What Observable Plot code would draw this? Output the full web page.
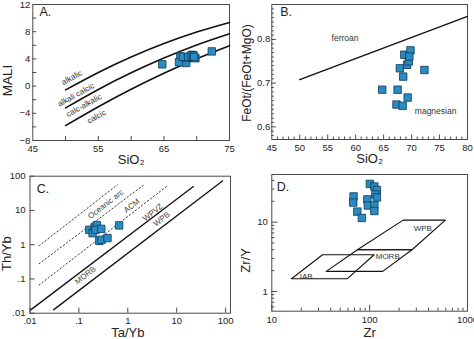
<!DOCTYPE html>
<html><head><meta charset="utf-8">
<script src="https://cdn.jsdelivr.net/npm/d3@7"></script>
<script src="https://cdn.jsdelivr.net/npm/@observablehq/plot@0.6"></script>
<style>
body{margin:0;background:#fff;}
#wrap{position:relative;width:474px;height:339px;overflow:hidden;background:#fff;}
#wrap>div{position:absolute;}
</style></head><body>
<div id="wrap"><div id="pa" style="left:0;top:0"></div><div id="pb" style="left:237px;top:0"></div><div id="pc" style="left:0;top:168px"></div><div id="pd" style="left:237px;top:168px"></div></div>
<script>
// ---------- data ----------
// Panel A: MALI vs SiO2 (boundary curves)
const boundarySiO2 = [50, 55, 60, 65, 70, 75];
const alkalicBoundary = [-0.56, 2.0, 4.27, 6.25, 7.95, 9.37];
const alkaliCalcicBoundary = [-3.2, -0.49, 1.95, 4.12, 6.04, 7.69];
const calcAlkalicBoundary = [-5.82, -3.04, -0.47, 1.88, 4.02, 5.94];
const seriesNames = ["alkalic", "alkali calcic", "calc-alkalic", "calcic"];
const seriesLabelSiO2 = [50.95, 51.6, 52.8, 54.7];
const seriesLabelMALI = [1.25, -1.28, -2.85, -4.5];
// samples
const sampleSiO2 = [64.75, 67.5, 67.3, 68.4, 69.3, 68.5, 67.9, 68.7, 69.2, 69.5, 69.8, 69.6, 72.3];
const sampleMALI = [3.2, 4.35, 3.5, 3.4, 4.6, 4.2, 4.3, 4.3, 4.5, 4.5, 4.1, 4.3, 5.1];
const sampleFeNumber = [0.685, 0.685, 0.651, 0.648, 0.667, 0.715, 0.734, 0.765, 0.742, 0.75, 0.775, 0.761, 0.73];
// Panel B: ferroan / magnesian boundary
const feBoundarySiO2 = [50, 80];
const feBoundaryValue = [0.708, 0.853];
const feFieldNames = ["ferroan", "magnesian"];
const feFieldSiO2 = [58.1, 74.3];
const feFieldValue = [0.802, 0.636];
// Panel C: Th/Yb vs Ta/Yb
const sampleTaYb = [0.163, 0.191, 0.211, 0.233, 0.218, 0.286, 0.261, 0.29, 0.384, 0.665];
const sampleThYb = [2.71, 2.17, 3.25, 3.74, 2.71, 2.9, 1.29, 1.39, 1.56, 3.66];
const cLineKind = ["solid", "solid", "dashed", "dashed", "dashed"];
const cLineTa1 = [0.0102, 0.0298, 0.0151, 0.0151, 0.0151];
const cLineTh1 = [0.0123, 0.0123, 0.914, 0.273, 0.0655];
const cLineTa2 = [22.3, 89, 0.623, 2.09, 6.47];
const cLineTh2 = [51.2, 75, 57, 54.7, 52.5];
const cFieldNames = ["Oceanic arc", "ACM", "WPVZ", "WPB", "MORB"];
const cFieldTa = [0.354, 1.205, 3.24, 4.94, 0.136];
const cFieldTh = [15.3, 13.7, 8.77, 5.59, 0.128];
const cTicks = [0.01, 0.1, 1, 10, 100];
// Panel D: Zr/Y vs Zr
const sampleZr = [100.5, 111.7, 118.5, 114.4, 118.5, 68.5, 68.0, 94.7, 95.9, 111.7, 111.7, 74.8, 83.2];
const sampleZrY = [35.6, 32.7, 29.1, 25.1, 22.7, 23.5, 19.2, 21.3, 17.4, 17.4, 14.5, 14.2, 11.5];
const dFieldNames = ["WPB", "MORB", "IAB"];
const dFieldZr = [[220, 594, 271, 75], [75, 271, 136, 36], [33, 111, 59.3, 15.9]];
const dFieldZrY = [[10.7, 10.7, 4.0, 4.0], [4.0, 4.0, 1.95, 1.95], [3.39, 3.39, 1.53, 1.53]];
const dFieldLabelZr = [349, 153, 22.5];
const dFieldLabelZrY = [8.2, 3.23, 1.65];
const dXTicks = [10, 100, 1000];
const dYTicks = [1, 10];

// ---------- helpers ----------
const font = "'Liberation Sans', Arial, Helvetica, sans-serif";
const ink = "#222";
const frameInk = "#4a4a4a";
const sqFill = "#2a8bc2";
const sqStroke = "#0d3b57";
const style = {fontFamily: font, fontSize: "9.5px", color: ink, background: "transparent", overflow: "visible"};
const idx = (n) => d3.range(n);
const logMinor = (lo, hi) => { const out = []; for (let e = lo; e < hi; e++) for (let m = 2; m <= 9; m++) out.push(m * Math.pow(10, e)); return out; };
const dotFmt = (d) => d < 1 ? String(d).replace(/^0\./, ".") : String(d);
const title = (txt, o) => Plot.text([txt], {textAnchor: "middle", lineAnchor: "middle", fill: ink, ...o});

const samples = idx(sampleSiO2.length).map(i => ({sio2: sampleSiO2[i], mali: sampleMALI[i], fe: sampleFeNumber[i]}));
const boundaryRows = [];
[[seriesNames[0], alkalicBoundary], [seriesNames[1], alkaliCalcicBoundary], [seriesNames[2], calcAlkalicBoundary]].forEach(([name, vals]) => {
  boundarySiO2.forEach((s, i) => boundaryRows.push({name, sio2: s, mali: vals[i]}));
});

// ---------- Panel A ----------
const plotA = Plot.plot({
  width: 237, height: 168, marginLeft: 32.3, marginRight: 8, marginTop: 4, marginBottom: 28,
  style,
  x: {type: "linear", domain: [45, 75]},
  y: {type: "linear", domain: [-8, 12]},
  marks: [
    Plot.axisX({ticks: [50, 55, 60, 65, 70], tickSize: -4, fill: "none", stroke: frameInk, label: null}),
    Plot.axisX({ticks: [45, 55, 65, 75], tickSize: 0, tickPadding: 5, label: null}),
    Plot.axisY({ticks: d3.range(-6, 12, 2), tickSize: -4, fill: "none", stroke: frameInk, label: null}),
    Plot.axisY({ticks: [-8, -4, 0, 4, 8, 12], tickSize: 0, tickPadding: 2.5, label: null}),
    Plot.frame({stroke: frameInk}),
    Plot.line(boundaryRows, {x: "sio2", y: "mali", z: "name", curve: "natural", stroke: "#111", strokeWidth: 1.6}),
    Plot.text(seriesNames, {x: (d, i) => seriesLabelSiO2[i], y: (d, i) => seriesLabelMALI[i], rotate: -29, fontSize: 8, fill: "#333"}),
    Plot.dot(samples, {x: "sio2", y: "mali", symbol: "square", r: 4.2, fill: sqFill, stroke: sqStroke, strokeWidth: 0.8}),
    Plot.text(["A."], {frameAnchor: "top-left", dx: 6.7, dy: 7.5, textAnchor: "start", lineAnchor: "middle", fontSize: 12.5}),
    title("SiO₂", {frameAnchor: "bottom", dy: 19, fontSize: 13}),
    title("MALI", {frameAnchor: "left", dx: -25, dy: 8, rotate: -90, fontSize: 13.5})
  ]
});
document.getElementById("pa").append(plotA);

// ---------- Panel B ----------
const plotB = Plot.plot({
  width: 237, height: 168, marginLeft: 34.3, marginRight: 7, marginTop: 4, marginBottom: 29,
  style,
  x: {type: "linear", domain: [45, 80]},
  y: {type: "linear", domain: [0.571, 0.88]},
  marks: [
    Plot.axisX({ticks: d3.range(46, 80).filter(v => v % 5 !== 0), tickSize: -2.5, fill: "none", stroke: frameInk, label: null}),
    Plot.axisX({ticks: [50, 55, 60, 65, 70, 75], tickSize: -4.5, fill: "none", stroke: frameInk, label: null}),
    Plot.axisX({ticks: [45, 50, 55, 60, 65, 70, 75, 80], tickSize: 0, tickPadding: 5, label: null}),
    Plot.axisY({ticks: d3.range(58, 88).filter(v => v % 10 !== 0).map(v => v / 100), tickSize: -2.5, fill: "none", stroke: frameInk, label: null}),
    Plot.axisY({ticks: [0.6, 0.7, 0.8], tickSize: -4.5, fill: "none", stroke: frameInk, label: null}),
    Plot.axisY({ticks: [0.6, 0.7, 0.8], tickSize: 0, tickPadding: 1.5, tickFormat: d => d.toFixed(1), label: null}),
    Plot.frame({stroke: frameInk}),
    Plot.line(idx(2), {x: i => feBoundarySiO2[i], y: i => feBoundaryValue[i], stroke: "#111", strokeWidth: 1.4}),
    Plot.text(feFieldNames, {x: (d, i) => feFieldSiO2[i], y: (d, i) => feFieldValue[i], fontSize: 8.5, fill: "#333"}),
    Plot.dot(samples, {x: "sio2", y: "fe", symbol: "square", r: 4.2, fill: sqFill, stroke: sqStroke, strokeWidth: 0.8}),
    Plot.text(["B."], {frameAnchor: "top-left", dx: 8.4, dy: 7.5, textAnchor: "start", lineAnchor: "middle", fontSize: 12.5}),
    title("SiO₂", {frameAnchor: "bottom", dy: 19.7, fontSize: 13}),
    title("FeOt/(FeOt+MgO)", {frameAnchor: "left", dx: -25, dy: 1, rotate: -90, fontSize: 12})
  ]
});
document.getElementById("pb").append(plotB);

// ---------- Panel C ----------
const cLines = idx(cLineKind.length).map(i => ({kind: cLineKind[i], x1: cLineTa1[i], y1: cLineTh1[i], x2: cLineTa2[i], y2: cLineTh2[i]}));
const cSamples = idx(sampleTaYb.length).map(i => ({ta: sampleTaYb[i], th: sampleThYb[i]}));
const plotC = Plot.plot({
  width: 237, height: 171, marginLeft: 29.5, marginRight: 7, marginTop: 7.7, marginBottom: 26.3,
  style,
  x: {type: "log", domain: [0.01, 126]},
  y: {type: "log", domain: [0.01, 100]},
  marks: [
    Plot.axisX({ticks: cTicks, tickSize: -5, fill: "none", stroke: frameInk, label: null}),
    Plot.axisX({ticks: cTicks, tickSize: 0, tickPadding: 4.5, tickFormat: dotFmt, label: null}),
    Plot.axisY({ticks: cTicks, tickSize: -5, fill: "none", stroke: frameInk, label: null}),
    Plot.axisY({ticks: cTicks, tickSize: 0, tickPadding: 4.5, tickFormat: dotFmt, label: null}),
    Plot.frame({stroke: frameInk}),
    Plot.link(cLines.filter(d => d.kind === "solid"), {x1: "x1", y1: "y1", x2: "x2", y2: "y2", stroke: "#111", strokeWidth: 1.3}),
    Plot.link(cLines.filter(d => d.kind === "dashed"), {x1: "x1", y1: "y1", x2: "x2", y2: "y2", stroke: "#222", strokeWidth: 0.9, strokeDasharray: "2.2,1.6"}),
    Plot.text(cFieldNames, {x: (d, i) => cFieldTa[i], y: (d, i) => cFieldTh[i], rotate: -38, fontSize: 8, fill: "#444"}),
    Plot.dot(cSamples, {x: "ta", y: "th", symbol: "square", r: 4.2, fill: sqFill, stroke: sqStroke, strokeWidth: 0.8}),
    Plot.text(["C."], {frameAnchor: "top-left", dx: 6.8, dy: 12.3, textAnchor: "start", lineAnchor: "middle", fontSize: 12.5}),
    title("Ta/Yb", {frameAnchor: "bottom", dy: 20, dx: -2.4, fontSize: 13}),
    title("Th/Yb", {frameAnchor: "left", dx: -23, dy: 9, rotate: -90, fontSize: 13})
  ]
});
document.getElementById("pc").append(plotC);

// ---------- Panel D ----------
const dPolys = [];
dFieldNames.forEach((name, k) => {
  const n = dFieldZr[k].length;
  for (let j = 0; j <= n; j++) dPolys.push({name, zr: dFieldZr[k][j % n], zry: dFieldZrY[k][j % n]});
});
const dSamples = idx(sampleZr.length).map(i => ({zr: sampleZr[i], zry: sampleZrY[i]}));
const plotD = Plot.plot({
  width: 237, height: 171, marginLeft: 34.3, marginRight: 7, marginTop: 6, marginBottom: 28.3,
  style,
  x: {type: "log", domain: [10, 1000]},
  y: {type: "log", domain: [0.52, 48.7]},
  marks: [
    Plot.axisX({ticks: logMinor(1, 3), tickSize: -3, fill: "none", stroke: frameInk, label: null}),
    Plot.axisX({ticks: dXTicks, tickSize: -6, fill: "none", stroke: frameInk, label: null}),
    Plot.axisX({ticks: dXTicks, tickSize: 0, tickPadding: 5.5, tickFormat: d => String(d), label: null}),
    Plot.axisY({ticks: logMinor(-1, 2).filter(v => v > 0.52 && v < 48.7), tickSize: -3, fill: "none", stroke: frameInk, label: null}),
    Plot.axisY({ticks: dYTicks, tickSize: -6, fill: "none", stroke: frameInk, label: null}),
    Plot.axisY({ticks: dYTicks, tickSize: 0, tickPadding: 4, tickFormat: d => String(d), label: null}),
    Plot.frame({stroke: frameInk}),
    Plot.line(dPolys, {x: "zr", y: "zry", z: "name", stroke: "#111", strokeWidth: 1.1}),
    Plot.text(dFieldNames, {x: (d, i) => dFieldLabelZr[i], y: (d, i) => dFieldLabelZrY[i], fontSize: 8, fill: "#333"}),
    Plot.dot(dSamples, {x: "zr", y: "zry", symbol: "square", r: 4.2, fill: sqFill, stroke: sqStroke, strokeWidth: 0.8}),
    Plot.text(["D."], {frameAnchor: "top-left", dx: 5, dy: 12.7, textAnchor: "start", lineAnchor: "middle", fontSize: 12.5}),
    title("Zr", {frameAnchor: "bottom", dy: 21.5, fontSize: 13}),
    title("Zr/Y", {frameAnchor: "left", dx: -25.6, dy: 17.5, rotate: -90, fontSize: 13})
  ]
});
document.getElementById("pd").append(plotD);
</script>
</body></html>
